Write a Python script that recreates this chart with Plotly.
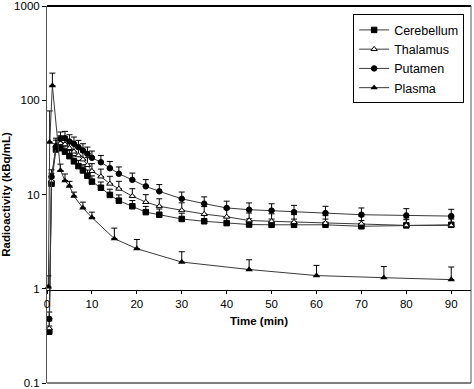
import plotly.graph_objects as go

# Tissue time points (min)
t_tissue = [0.5, 1, 2, 3, 4, 5, 6, 7, 8, 9, 10, 12, 14, 16, 19, 22, 25, 30, 35, 40, 45, 50, 55, 62, 70, 80, 90]
cerebellum = [0.35, 13, 30, 31, 28.5, 25.5, 22.5, 20, 18, 15.8, 13.7, 11.8, 9.9, 8.6, 7.5, 6.5, 6.1, 5.5, 5.2, 4.97, 4.8, 4.77, 4.77, 4.77, 4.6, 4.7, 4.77]
thalamus = [0.38, 14, 33, 35, 34, 31, 28.5, 26, 23.5, 20.5, 17.7, 15.5, 13, 11.5, 9.6, 8.3, 7.5, 6.8, 6.2, 5.8, 5.3, 5.2, 5.1, 4.97, 4.9, 4.7, 4.7]
putamen = [0.48, 15.5, 32, 39, 39.6, 36.5, 34.5, 31.8, 29.3, 27, 24.5, 22, 19, 16.6, 14.3, 12.2, 10.8, 9.0, 8.0, 7.2, 6.9, 6.75, 6.5, 6.35, 6.1, 6.0, 5.9]

t_plasma = [0.3, 0.6, 1.2, 3, 4, 5, 6, 8, 10, 15, 20, 30, 45, 60, 75, 90]
plasma = [1.05, 36, 143, 18, 14, 12.3, 9.6, 7.2, 5.7, 3.4, 2.66, 1.92, 1.6, 1.38, 1.31, 1.25]
plasma_err = [0.32, 41, 51, 3, 2.5, 1.5, 1.0, 1.1, 0.8, 1.0, 0.67, 0.55, 0.43, 0.39, 0.41, 0.45]

x_ticks = [0, 10, 20, 30, 40, 50, 60, 70, 80, 90]
y_ticks = [0.1, 1, 10, 100, 1000]
y_tick_text = ["0.1", "1", "10", "100", "1000"]

FONT = "Liberation Sans, Arial, sans-serif"
LINE = dict(color="#3a3a3a", width=1)

fig = go.Figure()

def tissue(name, x, y, symbol, pct, mcolor="black", lcolor="black"):
    fig.add_trace(go.Scatter(
        x=x, y=y, name=name, mode="lines+markers",
        line=LINE,
        marker=dict(symbol=symbol, size=5.5, color=mcolor, line=dict(color=lcolor, width=1)),
        error_y=dict(type="percent", value=pct, valueminus=0, symmetric=False,
                     color="black", thickness=1, width=3),
        cliponaxis=False,
    ))

tissue("Cerebellum", t_tissue, cerebellum, "square", 15)
tissue("Thalamus", t_tissue, thalamus, "triangle-up", 20, mcolor="white")
tissue("Putamen", t_tissue, putamen, "circle", 18)

fig.add_trace(go.Scatter(
    x=t_plasma, y=plasma, name="Plasma", mode="lines+markers",
    line=LINE,
    marker=dict(symbol="triangle-up", size=6.5, color="black"),
    error_y=dict(type="data", array=plasma_err, arrayminus=[0] * len(plasma_err),
                 symmetric=False, color="black", thickness=1, width=3),
    cliponaxis=False,
))

fig.update_layout(
    width=474, height=389,
    margin=dict(l=47, r=3, t=6, b=6, autoexpand=False),
    paper_bgcolor="white", plot_bgcolor="white",
    font=dict(family=FONT, size=11, color="black"),
    showlegend=True,
    legend=dict(x=0.722, y=0.978, xanchor="left", yanchor="top",
                bgcolor="white", bordercolor="black", borderwidth=1,
                font=dict(size=12.5), tracegroupgap=0, itemwidth=30),
    xaxis=dict(
        range=[0, 94.4], tickvals=x_ticks, showgrid=False, zeroline=False,
        showline=True, linecolor="black", linewidth=1,
        ticks="outside", ticklen=3, tickcolor="black",
        anchor="free", position=0.2467, automargin=False,
        title=dict(text="<b>Time (min)</b>", standoff=8, font=dict(size=11.5)),
        tickfont=dict(size=11.5),
    ),
    yaxis=dict(
        type="log", range=[-1, 3], tickvals=y_ticks, ticktext=y_tick_text,
        showgrid=False, zeroline=False, showline=True, linecolor="#555", linewidth=1,
        ticks="outside", ticklen=4, tickcolor="black", automargin=False,
        ticklabeloverflow="allow",
        title=dict(text="<b>Radioactivity (kBq/mL)</b>", standoff=6, font=dict(size=11.5)),
        tickfont=dict(size=11.5),
    ),
    shapes=[
        dict(type="line", xref="paper", yref="paper", x0=0, x1=1, y0=1, y1=1,
             line=dict(color="black", width=2)),
        dict(type="line", xref="paper", yref="paper", x0=0, x1=1, y0=0, y1=0,
             line=dict(color="black", width=1)),
        dict(type="line", xref="paper", yref="paper", x0=1, x1=1, y0=0, y1=1,
             line=dict(color="#555", width=1)),
    ],
)

fig.write_html("out.html", config={"displayModeBar": False},
               post_script="document.body.style.margin='0';document.body.style.overflow='hidden';")
